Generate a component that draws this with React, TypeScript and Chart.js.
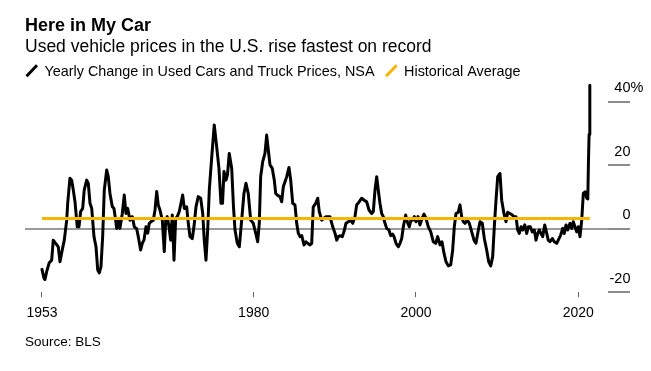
import { useEffect, useRef } from 'react';
import { Chart, registerables } from 'chart.js';

Chart.register(...registerables);

// ---- data ----
const years = [
  1953.91, 1954.16, 1954.28, 1954.49, 1954.81, 1955.11, 1955.30, 1955.60, 1955.92, 1956.13,
  1956.41, 1956.66, 1956.96, 1957.08, 1957.36, 1957.57, 1957.77, 1957.98, 1958.26, 1958.47,
  1958.68, 1958.93, 1959.12, 1959.42, 1959.62, 1959.83, 1960.04, 1960.32, 1960.57, 1960.78,
  1960.97, 1961.18, 1961.39, 1961.59, 1961.89, 1962.08, 1962.29, 1962.58, 1962.78, 1962.99,
  1963.12, 1963.31, 1963.52, 1963.81, 1964.05, 1964.26, 1964.47, 1964.76, 1965.04, 1965.29,
  1965.58, 1965.78, 1966.07, 1966.27, 1966.48, 1966.73, 1966.94, 1967.13, 1967.34, 1967.63,
  1967.84, 1968.05, 1968.24, 1968.45, 1968.74, 1968.98, 1969.16, 1969.35, 1969.56, 1969.77,
  1969.97, 1970.18, 1970.39, 1970.59, 1970.83, 1971.04, 1971.25, 1971.45, 1971.74, 1971.94,
  1972.15, 1972.43, 1972.64, 1972.89, 1973.17, 1973.47, 1973.72, 1973.91, 1974.12, 1974.33,
  1974.53, 1974.82, 1975.14, 1975.44, 1975.72, 1975.97, 1976.16, 1976.34, 1976.59, 1976.77,
  1976.99, 1977.29, 1977.51, 1977.70, 1977.98, 1978.23, 1978.52, 1978.80, 1979.05, 1979.33,
  1979.63, 1979.95, 1980.25, 1980.49, 1980.69, 1980.86, 1981.11, 1981.39, 1981.60, 1981.80,
  1982.01, 1982.29, 1982.54, 1982.71, 1982.96, 1983.24, 1983.45, 1983.65, 1983.86, 1984.07,
  1984.35, 1984.56, 1984.81, 1985.09, 1985.30, 1985.50, 1985.71, 1985.92, 1986.20, 1986.44,
  1986.65, 1986.94, 1987.15, 1987.34, 1987.64, 1987.89, 1988.08, 1988.38, 1988.66, 1988.91,
  1989.16, 1989.40, 1989.74, 1990.02, 1990.23, 1990.43, 1990.63, 1990.92, 1991.13, 1991.37,
  1991.66, 1991.95, 1992.20, 1992.48, 1992.69, 1993.01, 1993.31, 1993.59, 1993.92, 1994.21,
  1994.54, 1994.74, 1994.95, 1995.16, 1995.35, 1995.56, 1995.77, 1995.97, 1996.18, 1996.39,
  1996.67, 1996.88, 1997.13, 1997.29, 1997.54, 1997.82, 1998.03, 1998.24, 1998.44, 1998.73,
  1998.93, 1999.17, 1999.38, 1999.59, 1999.79, 2000.00, 2000.25, 2000.49, 2000.78, 2000.99,
  2001.23, 2001.52, 2001.81, 2002.13, 2002.43, 2002.67, 2002.96, 2003.20, 2003.45, 2003.70,
  2003.98, 2004.28, 2004.52, 2004.72, 2004.93, 2005.21, 2005.42, 2005.63, 2005.83, 2006.04,
  2006.32, 2006.57, 2006.86, 2007.15, 2007.39, 2007.68, 2007.89, 2008.17, 2008.42, 2008.71,
  2008.96, 2009.21, 2009.45, 2009.65, 2009.86, 2010.07, 2010.35, 2010.56, 2010.84, 2011.09,
  2011.30, 2011.58, 2011.87, 2012.08, 2012.32, 2012.53, 2012.73, 2012.94, 2013.15, 2013.40,
  2013.64, 2013.84, 2014.09, 2014.33, 2014.58, 2014.79, 2015.00, 2015.19, 2015.40, 2015.61,
  2015.86, 2016.11, 2016.30, 2016.51, 2016.80, 2017.04, 2017.34, 2017.62, 2017.83, 2018.08,
  2018.27, 2018.49, 2018.69, 2018.98, 2019.19, 2019.38, 2019.59, 2019.80, 2020.00, 2020.21,
  2020.42, 2020.62, 2020.83, 2021.04, 2021.17, 2021.25, 2021.33, 2021.42,
];

const yearlyChange = [
  -12.8, -15.6, -16.0, -13.5, -10.7, -9.9, -3.6, -4.6, -5.7, -10.4,
  -6.7, -3.6, 2.7, 8.0, 15.9, 15.3, 12.2, 8.5, 0.6, 0.6,
  5.4, 6.4, 12.2, 15.3, 14.3, 8.0, 6.4, -2.5, -5.7, -13.0,
  -13.9, -12.0, -2.5, 12.2, 18.5, 16.4, 11.1, 6.9, 6.4, 2.7,
  0.1, 2.7, 0.1, 4.8, 10.6, 4.8, 6.4, 2.7, 3.8, 0.6,
  0.0, -2.5, -6.7, -4.6, -3.6, 0.6, -1.4, 1.7, 2.2, 2.7,
  5.9, 11.7, 7.5, 5.9, 2.7, -7.2, 2.7, 3.8, 0.6, -3.6,
  4.3, -9.9, 3.3, 3.8, 5.4, 8.0, 10.6, 6.4, 6.9, 1.7,
  -2.5, -3.1, 0.6, 6.9, 10.1, 9.6, 4.8, -3.6, -9.9, -0.4,
  12.2, 22.2, 32.7, 25.8, 19.0, 8.0, 8.0, 18.0, 15.3, 17.0,
  23.7, 19.0, 6.9, -0.4, -4.6, -5.7, 2.7, 11.1, 14.3, 11.1,
  2.7, 1.7, -1.4, -4.1, 1.7, 16.4, 21.1, 23.7, 29.5, 24.8,
  20.1, 19.0, 15.3, 11.1, 10.5, 10.1, 8.5, 13.2, 14.8, 16.4,
  19.3, 15.3, 8.0, 7.5, 1.7, -1.4, -2.5, -2.2, -5.1, -4.1,
  -4.6, -5.1, -4.6, 6.9, 8.0, 9.6, 5.4, 2.7, 3.3, 3.8,
  3.8, 3.8, 0.6, -1.4, -3.6, -2.5, -2.2, -2.5, -0.9, 1.7,
  2.2, 2.7, 1.7, 3.8, 7.5, 8.5, 9.6, 9.0, 8.5, 5.9,
  4.8, 5.4, 12.2, 16.4, 12.2, 8.0, 4.8, 3.8, 1.7, 0.1,
  -0.4, -2.2, -1.7, -2.5, -4.6, -5.7, -4.6, -3.1, 0.6, 4.3,
  2.2, 0.6, 2.7, 2.7, 3.8, 2.2, 3.8, 1.2, 3.5, 4.6,
  3.3, 0.6, -0.9, -4.1, -4.6, -2.5, -5.1, -4.1, -7.7, -10.4,
  -11.7, -11.4, -6.7, 0.6, 4.8, 5.2, 7.5, 3.8, 2.2, 1.7,
  2.7, 1.7, -0.9, -3.6, -4.6, -0.5, 2.2, 1.7, -3.1, -6.7,
  -10.4, -11.7, -8.8, 0.6, 9.0, 16.4, 17.4, 9.0, 4.8, 2.2,
  5.2, 4.8, 4.3, 3.8, 3.8, -0.4, -1.5, 0.6, -0.4, 1.2,
  -1.5, 0.6, 0.6, -1.0, -0.4, -3.6, -1.5, -0.4, -1.5, -2.5,
  1.2, -1.5, -3.6, -4.1, -3.1, -4.1, -4.6, -3.1, -2.0, 0.1,
  -1.5, 1.2, -0.4, 1.7, 0.1, 2.2, 0.6, -1.0, 0.6, -2.5,
  2.7, 11.1, 11.6, 9.6, 9.4, 21.0, 29.7, 45.2,
];

const historicalAverage = 3.2;

const xTickValues = [1953.91, 1980, 2000, 2020];
const xTickLabels = ['1953', '1980', '2000', '2020'];
const yTickValues = [-20, 0, 20, 40];
const yTickLabels = ['-20', '0', '20', '40'];
const yUnit = '%';

const titleText = 'Here in My Car';
const subtitleText = 'Used vehicle prices in the U.S. rise fastest on record';
const seriesLabels = ['Yearly Change in Used Cars and Truck Prices, NSA', 'Historical Average'];
const seriesColors = ['#000000', '#f7b500'];
const sourceText = 'Source: BLS';

const FONT = '"Liberation Sans", Arial, Helvetica, sans-serif';

const textPlugin = {
  id: 'bbgText',
  afterDraw(chart: any) {
    const ctx = chart.ctx as CanvasRenderingContext2D;
    const xs = chart.scales.x;
    const ys = chart.scales.y;
    ctx.save();
    ctx.fillStyle = '#000';
    ctx.textBaseline = 'alphabetic';
    ctx.textAlign = 'left';

    ctx.font = `bold 18px ${FONT}`;
    ctx.fillText(titleText, 25, 31);
    ctx.font = `17.5px ${FONT}`;
    ctx.fillText(subtitleText, 25, 52.3);

    // legend
    ctx.font = `14.4px ${FONT}`;
    let lx = 26;
    const ly = 76;
    seriesLabels.forEach((label, i) => {
      ctx.strokeStyle = seriesColors[i];
      ctx.lineWidth = 3;
      ctx.lineCap = 'butt';
      ctx.beginPath();
      ctx.moveTo(lx + 0.5, ly + 0.3);
      ctx.lineTo(lx + 11, ly - 10.7);
      ctx.stroke();
      ctx.fillText(label, lx + 18.5, ly);
      lx += 18.5 + ctx.measureText(label).width + 11;
    });

    // x tick labels
    ctx.font = `14px ${FONT}`;
    ctx.textAlign = 'center';
    xTickValues.forEach((v, i) => {
      ctx.fillText(xTickLabels[i], xs.getPixelForValue(v), 316.7);
    });

    // y tick labels
    ctx.font = `14.5px ${FONT}`;
    yTickValues.forEach((v, i) => {
      const py = ys.getPixelForValue(v) - 9.3;
      ctx.textAlign = 'right';
      ctx.fillText(yTickLabels[i], 630.5, py);
      if (i === yTickValues.length - 1) {
        ctx.textAlign = 'left';
        ctx.fillText(yUnit, 630.5, py);
      }
    });

    ctx.textAlign = 'left';
    ctx.font = `13.5px ${FONT}`;
    ctx.fillText(sourceText, 25, 345.7);
    ctx.restore();
  },
};

export default function App() {
  const canvasRef = useRef<HTMLCanvasElement | null>(null);

  useEffect(() => {
    document.body.style.margin = '0';
    const canvas = canvasRef.current;
    if (!canvas) return;
    const seriesData = years.map((y, i) => ({ x: y, y: yearlyChange[i] }));
    const avgData = [
      { x: years[0], y: historicalAverage },
      { x: years[years.length - 1], y: historicalAverage },
    ];
    const chart = new Chart(canvas, {
      type: 'line',
      data: {
        datasets: [
          {
            label: seriesLabels[1],
            data: avgData,
            borderColor: seriesColors[1],
            borderWidth: 3,
            pointRadius: 0,
            order: 0,
          },
          {
            label: seriesLabels[0],
            data: seriesData,
            borderColor: seriesColors[0],
            borderWidth: 3,
            pointRadius: 0,
            tension: 0,
            borderJoinStyle: 'round',
            borderCapStyle: 'round',
            order: 1,
          },
        ],
      },
      options: {
        animation: false,
        responsive: false,
        devicePixelRatio: 1,
        layout: { padding: { top: 79.5, left: 25, right: 0, bottom: 0 } },
        plugins: {
          legend: { display: false },
          tooltip: { enabled: false },
          title: { display: false },
        },
        scales: {
          x: {
            type: 'linear',
            min: 1951.82,
            max: 2023.66,
            afterBuildTicks: (scale: any) => {
              scale.ticks = xTickValues.map((v) => ({ value: v }));
            },
            afterFit: (scale: any) => {
              scale.height = 78.8;
            },
            ticks: { display: false },
            grid: {
              display: true,
              drawOnChartArea: false,
              drawTicks: true,
              tickLength: 5,
              color: '#666666',
              lineWidth: 1,
            },
            border: { display: false },
          },
          y: {
            type: 'linear',
            position: 'right',
            min: -20,
            max: 47,
            afterBuildTicks: (scale: any) => {
              scale.ticks = yTickValues.map((v) => ({ value: v }));
            },
            afterFit: (scale: any) => {
              scale.width = 43;
            },
            ticks: { display: false },
            grid: {
              display: true,
              drawOnChartArea: true,
              drawTicks: true,
              tickLength: 22,
              lineWidth: 2,
              color: (c: any) => (c.tick && c.tick.value === 0 ? '#9a9a9a' : 'rgba(0,0,0,0)'),
              tickColor: '#8c8c8c',
            },
            border: { display: false },
          },
        },
      },
      plugins: [textPlugin],
    });
    return () => chart.destroy();
  }, []);

  return (
    <div style={{ position: 'absolute', left: 0, top: 0, width: 651, height: 371, background: '#fff' }}>
      <canvas ref={canvasRef} width={651} height={371} style={{ width: 651, height: 371, display: 'block' }} />
    </div>
  );
}
